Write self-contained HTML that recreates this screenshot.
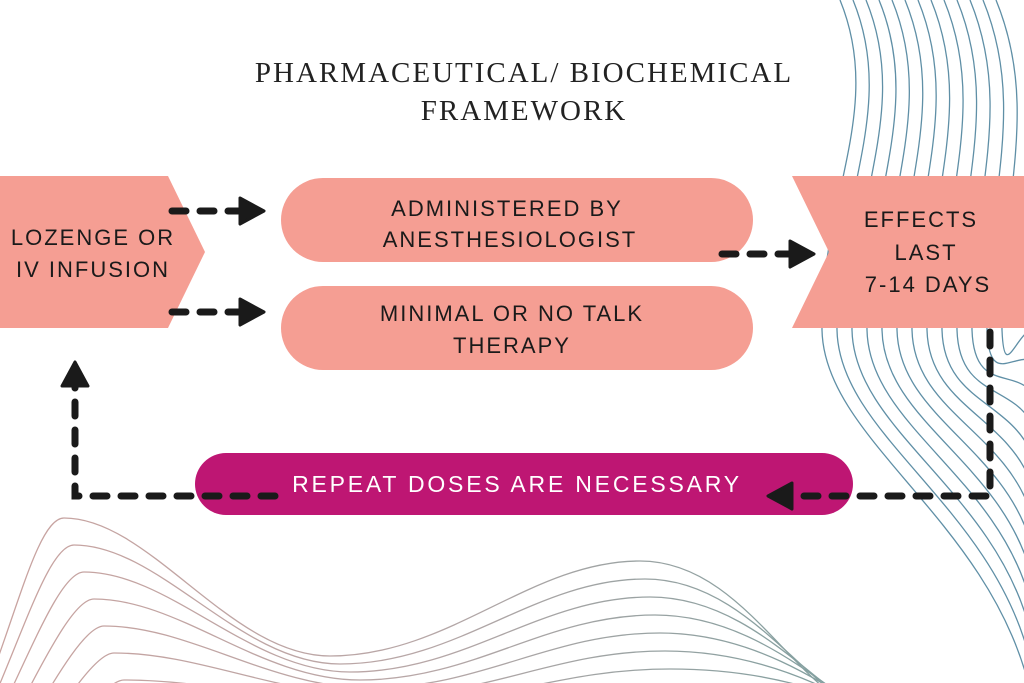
<!DOCTYPE html>
<html><head><meta charset="utf-8"><style>
html,body{margin:0;padding:0;background:#fff;overflow:hidden;}
body{width:1024px;height:683px;overflow:hidden;position:relative;}
svg{position:absolute;left:0;top:0;display:block;}
</style></head><body>
<svg width="1024" height="683" viewBox="0 0 1024 683" xmlns="http://www.w3.org/2000/svg">
<defs>
<linearGradient id="wg" gradientUnits="userSpaceOnUse" x1="0" y1="0" x2="850" y2="0">
<stop offset="0" stop-color="#c9a3a0"/><stop offset="0.5" stop-color="#b7a7a7"/><stop offset="1" stop-color="#7f9f9f"/>
</linearGradient>
<clipPath id="c"><rect x="0" y="0" width="1024" height="683"/></clipPath>
</defs>
<g clip-path="url(#c)">
<g fill="none" stroke="#5f8fa6" stroke-width="1.3">
<path d="M840,0 C885,110 820,200 822,330 C824,440 990,520 1030,690"/>
<path d="M853,0 C898,110 835,200 837,330 C839,435 992,505 1030,660"/>
<path d="M866,0 C911,110 850,200 852,330 C854,430 994,490 1030,630"/>
<path d="M879,0 C924,110 865,200 867,330 C869,425 996,475 1030,600"/>
<path d="M892,0 C937,110 880,200 882,330 C884,420 998,460 1030,570"/>
<path d="M905,0 C950,110 895,200 897,330 C899,415 1000,445 1030,540"/>
<path d="M918,0 C963,110 910,200 912,330 C914,410 1002,430 1030,510"/>
<path d="M931,0 C976,110 925,200 927,330 C929,405 1004,415 1030,480"/>
<path d="M944,0 C989,110 940,200 942,330 C944,400 1006,400 1030,450"/>
<path d="M957,0 C1002,110 955,200 957,330 C959,395 1008,385 1030,420"/>
<path d="M970,0 C1015,110 970,200 972,330 C974,390 1010,370 1030,390"/>
<path d="M983,0 C1028,110 985,200 987,330 C989,385 1012,355 1030,360"/>
<path d="M996,0 C1041,110 1000,200 1002,330 C1004,380 1014,340 1030,330"/>
</g>
<g fill="none" stroke="url(#wg)" stroke-width="1.3">
<path d="M-10,680 C20,600 40,518 64,518 C150,518 230,656 330,656 C450,656 530,561 640,561 C730,561 780,660 840,700"/>
<path d="M-10,707 C25,627 50,545 74,545 C160,545 240,664 340,664 C458,664 535,579 645,579 C735,579 790,665 850,705"/>
<path d="M-10,734 C30,654 60,572 84,572 C170,572 250,672 350,672 C466,672 540,597 650,597 C740,597 800,670 860,710"/>
<path d="M-10,761 C35,681 70,599 94,599 C180,599 260,680 360,680 C474,680 545,615 655,615 C745,615 810,675 870,715"/>
<path d="M-10,788 C40,708 80,626 104,626 C190,626 270,688 370,688 C482,688 550,633 660,633 C750,633 820,680 880,720"/>
<path d="M-10,815 C45,735 90,653 114,653 C200,653 280,696 380,696 C490,696 555,651 665,651 C755,651 830,685 890,725"/>
<path d="M-10,842 C50,762 100,680 124,680 C210,680 290,704 390,704 C498,704 560,669 670,669 C760,669 840,690 900,730"/>
</g>
</g>
<g fill="#f59e93">
<polygon points="0,176 168,176 205,252 168,328 0,328"/>
<polygon points="792,176 1024,176 1024,328 792,328 829,252"/>
<rect x="281" y="178" width="472" height="84" rx="42"/>
<rect x="281" y="286" width="472" height="84" rx="42"/>
</g>
<rect x="195" y="453" width="658" height="62" rx="31" fill="#be1673"/>
<g fill="none" stroke="#1a1a1a" stroke-width="7" stroke-linecap="round" stroke-dasharray="14 14">
<path d="M172,211 L242,211"/>
<path d="M172,312 L242,312"/>
<path d="M722,254 L792,254"/>
<path d="M990,332 L990,496 L790,496"/>
<path d="M275,496 L75,496 L75,385"/>
</g>
<g fill="#1a1a1a" stroke="#1a1a1a" stroke-width="3" stroke-linejoin="round">
<polygon points="240,198 264,211 240,224"/>
<polygon points="240,299 264,312 240,325"/>
<polygon points="790,241 814,254 790,267"/>
<polygon points="792,483 768,496 792,509"/>
<polygon points="62,386 75,362 88,386"/>
</g>
<g font-family="Liberation Serif, serif" font-size="29" fill="#222" text-anchor="middle" letter-spacing="2">
<text x="524" y="82">PHARMACEUTICAL/ BIOCHEMICAL</text>
<text x="524" y="120">FRAMEWORK</text>
</g>
<g font-family="Liberation Sans, sans-serif" font-size="22" fill="#1a1a1a" text-anchor="middle" letter-spacing="2">
<text x="93" y="245">LOZENGE OR</text>
<text x="93" y="277">IV INFUSION</text>
<text x="507" y="216">ADMINISTERED BY</text>
<text x="510" y="247">ANESTHESIOLOGIST</text>
<text x="512" y="321">MINIMAL OR NO TALK</text>
<text x="512" y="353">THERAPY</text>
<text x="921" y="227">EFFECTS</text>
<text x="926" y="260">LAST</text>
<text x="928" y="292">7-14 DAYS</text>
</g>
<text x="517" y="492" font-family="Liberation Sans, sans-serif" font-size="23" fill="#fff" text-anchor="middle" letter-spacing="2.8">REPEAT DOSES ARE NECESSARY</text>
</svg>
</body></html>
